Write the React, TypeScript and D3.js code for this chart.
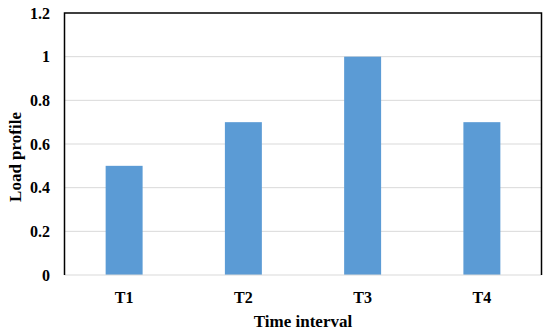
import React from "react";
import * as d3 from "d3";

const categories = ["T1", "T2", "T3", "T4"];
const values = [0.5, 0.7, 1.0, 0.7];
const yTicks = [0, 0.2, 0.4, 0.6, 0.8, 1, 1.2];

export default function App() {
  const W = 550, H = 330;
  const m = { left: 64.5, right: 541.5, top: 13, bottom: 275 };
  const x = d3.scaleBand<string>().domain(categories).range([m.left, m.right]).paddingInner(0.69).paddingOuter(0.345);
  const y = d3.scaleLinear().domain([0, 1.2]).range([m.bottom, m.top]);
  const fs = { fontFamily: "Liberation Serif, Times New Roman, serif", fontWeight: 700 as const };
  return (
    <svg width={W} height={H} style={{ position: "absolute", left: 0, top: 0, background: "#fff" }}>
      {yTicks.map((t) => (
        <g key={t}>
          {t > 0 && t < 1.2 && (
            <line x1={m.left} x2={m.right} y1={y(t)} y2={y(t)} stroke="#D9D9D9" strokeWidth={1} />
          )}
          <text x={50} y={y(t)} dy="0.35em" textAnchor="end" style={{ ...fs, fontSize: 16 }} fill="#000">
            {d3.format("~g")(t)}
          </text>
        </g>
      ))}
      {categories.map((c, i) => (
        <rect key={c} x={x(c)} y={y(values[i])} width={x.bandwidth()} height={y(0) - y(values[i])} fill="#5B9BD5" />
      ))}
      <line x1={m.left} x2={m.right} y1={y(0)} y2={y(0)} stroke="#D9D9D9" strokeWidth={1} />
      <path d={`M${m.left},${m.bottom}V${m.top}H${m.right}V${m.bottom}`} fill="none" stroke="#000" strokeWidth={1.5} />
      {categories.map((c) => (
        <text key={c} x={(x(c) as number) + x.bandwidth() / 2} y={297} dy="0.35em" textAnchor="middle" style={{ ...fs, fontSize: 16 }} fill="#000">
          {c}
        </text>
      ))}
      <text x={303} y={321} dy="0.35em" textAnchor="middle" style={{ ...fs, fontSize: 17 }} fill="#000">
        Time interval
      </text>
      <text transform={`translate(15,157) rotate(-90)`} dy="0.35em" textAnchor="middle" style={{ ...fs, fontSize: 17 }} fill="#000">
        Load profile
      </text>
    </svg>
  );
}
